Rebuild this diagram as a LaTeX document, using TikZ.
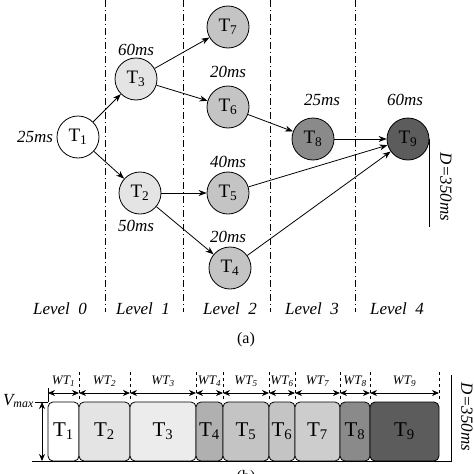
\documentclass[tikz,border=0pt]{standalone}
\usepackage{fontspec}
\setmainfont{Liberation Serif}
\usepackage{tikz}
\usetikzlibrary{arrows.meta,positioning}
\usepackage{xcolor}
\definecolor{gwhite}{RGB}{255,255,255}
\definecolor{glight}{RGB}{228,228,228}
\definecolor{gmid}{RGB}{196,196,196}
\definecolor{gdark}{RGB}{138,138,138}
\definecolor{gdeep}{RGB}{92,92,92}

\begin{document}
\begin{tikzpicture}[x=1pt, y=-1pt,
    task/.style={circle, draw=black, thick, minimum size=42pt, inner sep=0pt,
                 font=\fontsize{19}{19}\selectfont},
    arr/.style={-{Stealth[length=8pt,width=6pt]}, thick},
    lvl/.style={thick, dash pattern=on 7pt off 3pt on 1pt off 3pt},
    tlab/.style={font=\fontsize{17}{17}\selectfont\itshape},
    blk/.style={draw=black, thick, rounded corners=5pt, minimum height=59pt,
                inner sep=0pt, font=\fontsize{21}{21}\selectfont},
    wt/.style={font=\fontsize{13}{13}\selectfont\itshape},
    dbl/.style={{Stealth[length=7pt,width=6pt]}-{Stealth[length=7pt,width=6pt]}, thick}]

    \useasboundingbox (0,0) rectangle (474,474);

    % (a) task graph
    \foreach \x in {105,183,270,355}
        \draw[lvl] (\x,0) -- (\x,312);

    \node[task, fill=gwhite] (t1) at (78,137) {T\textsubscript{1}};
    \node[task, fill=glight] (t3) at (136,79) {T\textsubscript{3}};
    \node[task, fill=glight] (t2) at (140,193) {T\textsubscript{2}};
    \node[task, fill=gmid] (t7) at (228,27) {T\textsubscript{7}};
    \node[task, fill=gmid] (t6) at (228,107) {T\textsubscript{6}};
    \node[task, fill=gmid] (t5) at (228,193) {T\textsubscript{5}};
    \node[task, fill=gmid] (t4) at (230,268) {T\textsubscript{4}};
    \node[task, fill=gdark] (t8) at (313,139) {T\textsubscript{8}};
    \node[task, fill=gdeep] (t9) at (408,139) {T\textsubscript{9}};

    \foreach \a/\b in {t1/t3,t1/t2,t3/t7,t3/t6,t2/t5,t2/t4,t6/t8,t8/t9,t5/t9,t4/t9}
        \draw[arr] (\a) -- (\b);

    \node[tlab, left=0pt of t1] (c1) {25ms};
    \node[tlab] (c3) at (136,50) {60ms};
    \node[tlab] (c2) at (136,226) {50ms};
    \node[tlab] (c6) at (228,72) {20ms};
    \node[tlab] (c5) at (228,162) {40ms};
    \node[tlab] (c4) at (228,237) {20ms};
    \node[tlab] (c8) at (322,100) {25ms};
    \node[tlab] (c9) at (405,100) {60ms};

    \coordinate (dend) at (428,227);
    \draw[thick] (t9.east) -- (t9.east |- dend);
    \node[tlab, rotate=-90] (da) at (446,187) {D=350ms};

    \node[tlab] (l0) at (60,309) {Level~~0};
    \node[tlab] (l1) at (143,309) {Level~~1};
    \node[tlab] (l2) at (230,309) {Level~~2};
    \node[tlab] (l3) at (312,309) {Level~~3};
    \node[tlab] (l4) at (397,309) {Level~~4};
    \node[font=\fontsize{16}{16}\selectfont] (sa) at (246,340) {(a)};

    % (b) schedule
    \foreach \i/\l/\r/\c in {1/48/79/gwhite,2/79/130/glight,3/130/196/glight!70,
                             4/196/223/gmid!90!black,5/223/269/gmid,6/269/295/gmid,
                             7/295/340/gmid!85,8/340/370/gdark,9/370/439/gdeep} {
        \pgfmathsetmacro{\w}{\r-\l}
        \node[blk, fill=\c, minimum width=\w pt] (b\i) at ({(\l+\r)/2},431.5) {T\textsubscript{\i}};
        \draw[thick, dashed] (\r,372) -- (\r,402);
        \coordinate (ql\i) at (\l,393);
        \coordinate (qr\i) at (\r,393);
        \draw[dbl] (ql\i) -- (qr\i);
        \node[wt] (w\i) at ({(\l+\r)/2},381) {WT\textsubscript{\i}};
    }
    \draw[thick] (48,388) -- (48,402);

    \coordinate (bl) at (32,461);
    \coordinate (br) at (451,461);
    \coordinate (rt) at (451,375);
    \draw[thick] (bl) -- (br) -- (rt);
    \coordinate (vt) at (42,402);
    \coordinate (vb) at (42,461);
    \draw[thick] (35,402) -- (48,402);
    \draw[dbl] (vt) -- (vb);
    \node[tlab, anchor=east, inner sep=0pt] (vm) at (34,401) {V\textsubscript{max}};
    \node[tlab, rotate=-90] (db) at (467,417) {D=350ms};
    \node[font=\fontsize{16}{16}\selectfont] (sb) at (246,478) {(b)};
\end{tikzpicture}
\end{document}
